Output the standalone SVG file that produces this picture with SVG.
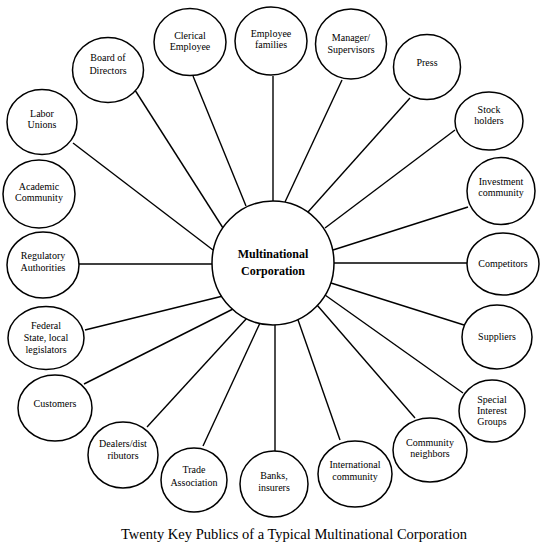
<svg xmlns="http://www.w3.org/2000/svg" width="550" height="547" viewBox="0 0 550 547">
<style>
.n{fill:#fff;stroke:#000;stroke-width:1.5}
.t{font-family:"Liberation Serif","Times New Roman",serif;font-size:10px;fill:#000;text-anchor:middle}
.c{font-family:"Liberation Serif","Times New Roman",serif;font-size:12px;font-weight:bold;fill:#000;text-anchor:middle}
.cap{font-family:"Liberation Serif","Times New Roman",serif;font-size:14.5px;fill:#000;text-anchor:middle}
#connectors line{stroke:#000;stroke-width:1.4}
</style>
<rect width="550" height="547" fill="#fff"/>
<g id="connectors">
<line x1="73" y1="143" x2="213" y2="250"/>
<line x1="133" y1="87" x2="223" y2="228"/>
<line x1="193" y1="76" x2="246" y2="206"/>
<line x1="273" y1="76" x2="273" y2="202"/>
<line x1="342" y1="80" x2="285" y2="202"/>
<line x1="410" y1="98" x2="308" y2="212"/>
<line x1="455" y1="130" x2="325" y2="228"/>
<line x1="468" y1="207" x2="333" y2="250"/>
<line x1="334" y1="263" x2="467" y2="263"/>
<line x1="331" y1="283" x2="464" y2="325"/>
<line x1="325" y1="295" x2="463" y2="393"/>
<line x1="317" y1="305" x2="415" y2="418"/>
<line x1="297" y1="317" x2="340" y2="440"/>
<line x1="275" y1="324" x2="275" y2="451"/>
<line x1="260" y1="323" x2="203" y2="446"/>
<line x1="247" y1="318" x2="147" y2="427"/>
<line x1="233" y1="309" x2="84" y2="384"/>
<line x1="223" y1="296" x2="85" y2="330"/>
<line x1="212" y1="264" x2="79" y2="264"/>
</g>
<g id="center">
<ellipse class="n" cx="273" cy="263" rx="61" ry="62"/>
<text class="c" x="273" y="258">Multinational</text>
<text class="c" x="273" y="275">Corporation</text>
</g>
<g id="board">
<ellipse class="n" cx="108" cy="70" rx="35.5" ry="32.5"/>
<text class="t" x="108" y="61">Board of</text>
<text class="t" x="108" y="74">Directors</text>
</g>
<g id="clerical">
<ellipse class="n" cx="190" cy="42" rx="36" ry="33.5"/>
<text class="t" x="190" y="39">Clerical</text>
<text class="t" x="190" y="50">Employee</text>
</g>
<g id="families">
<ellipse class="n" cx="271" cy="41" rx="36" ry="34"/>
<text class="t" x="271" y="37">Employee</text>
<text class="t" x="271" y="48">families</text>
</g>
<g id="manager">
<ellipse class="n" cx="351" cy="44" rx="35.5" ry="35"/>
<text class="t" x="351" y="41">Manager/</text>
<text class="t" x="351" y="53">Supervisors</text>
</g>
<g id="press">
<ellipse class="n" cx="427" cy="67" rx="33.5" ry="32.5"/>
<text class="t" x="427" y="66">Press</text>
</g>
<g id="stock">
<ellipse class="n" cx="489" cy="121" rx="34" ry="29"/>
<text class="t" x="489" y="113">Stock</text>
<text class="t" x="489" y="124">holders</text>
</g>
<g id="investment">
<ellipse class="n" cx="501" cy="191" rx="34" ry="33.5"/>
<text class="t" x="501" y="185">Investment</text>
<text class="t" x="501" y="196">community</text>
</g>
<g id="competitors">
<ellipse class="n" cx="503" cy="264" rx="36" ry="31"/>
<text class="t" x="503" y="267">Competitors</text>
</g>
<g id="suppliers">
<ellipse class="n" cx="497" cy="337" rx="35" ry="32"/>
<text class="t" x="497" y="340">Suppliers</text>
</g>
<g id="special">
<ellipse class="n" cx="492" cy="411" rx="33" ry="31"/>
<text class="t" x="492" y="403">Special</text>
<text class="t" x="492" y="414">Interest</text>
<text class="t" x="492" y="425">Groups</text>
</g>
<g id="neighbors">
<ellipse class="n" cx="430" cy="450" rx="37" ry="32"/>
<text class="t" x="430" y="446">Community</text>
<text class="t" x="430" y="457">neighbors</text>
</g>
<g id="international">
<ellipse class="n" cx="355" cy="474" rx="37" ry="33"/>
<text class="t" x="355" y="468">International</text>
<text class="t" x="355" y="480">community</text>
</g>
<g id="banks">
<ellipse class="n" cx="274" cy="484" rx="34" ry="33"/>
<text class="t" x="274" y="479">Banks,</text>
<text class="t" x="274" y="491">insurers</text>
</g>
<g id="trade">
<ellipse class="n" cx="194" cy="480" rx="33" ry="32"/>
<text class="t" x="194" y="473">Trade</text>
<text class="t" x="194" y="486">Association</text>
</g>
<g id="dealers">
<ellipse class="n" cx="123" cy="455" rx="35" ry="33"/>
<text class="t" x="123" y="447">Dealers/dist</text>
<text class="t" x="123" y="459">ributors</text>
</g>
<g id="customers">
<ellipse class="n" cx="55" cy="408" rx="37" ry="33"/>
<text class="t" x="55" y="407">Customers</text>
</g>
<g id="federal">
<ellipse class="n" cx="46" cy="338" rx="38" ry="31.5"/>
<text class="t" x="46" y="329">Federal</text>
<text class="t" x="46" y="341">State, local</text>
<text class="t" x="46" y="353">legislators</text>
</g>
<g id="regulatory">
<ellipse class="n" cx="43" cy="265" rx="36" ry="33"/>
<text class="t" x="43" y="259">Regulatory</text>
<text class="t" x="43" y="271">Authorities</text>
</g>
<g id="academic">
<ellipse class="n" cx="39" cy="194" rx="36" ry="34"/>
<text class="t" x="39" y="190">Academic</text>
<text class="t" x="39" y="201">Community</text>
</g>
<g id="labor">
<ellipse class="n" cx="42" cy="122" rx="35" ry="32.5"/>
<text class="t" x="42" y="117">Labor</text>
<text class="t" x="42" y="128">Unions</text>
</g>
<text class="cap" x="294" y="539">Twenty Key Publics of a Typical Multinational Corporation</text>
</svg>
